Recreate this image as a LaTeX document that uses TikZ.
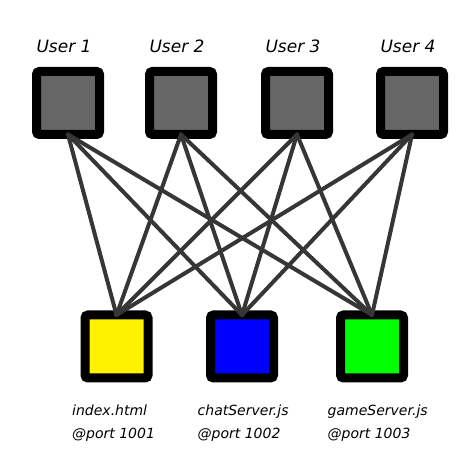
\documentclass[tikz,border=0pt]{standalone}
\usepackage{fontspec}
\setmainfont{DejaVu Sans}
\usetikzlibrary{positioning}

\definecolor{boxGray}{HTML}{666666}
\definecolor{wireGray}{HTML}{363636}

\begin{document}
\begin{tikzpicture}[x=1pt, y=1pt, node distance=20pt]
      \tikzstyle{userNode} = [rectangle, draw=black, fill=boxGray, line width=9pt, rounded corners=3pt, minimum size=63pt, outer sep=0pt]
      \tikzstyle{serverNode} = [rectangle, draw=black, line width=9pt, rounded corners=3pt, minimum size=63pt, outer sep=0pt]
      \tikzstyle{userLabel} = [font=\fontsize{17}{20}\selectfont\itshape, inner sep=0pt]
      \tikzstyle{serverLabel} = [font=\fontsize{14}{23}\selectfont\itshape, inner sep=0pt, align=left]
      \tikzstyle{wire} = [draw=wireGray, line width=4pt, line cap=round]

      \useasboundingbox (0,0) rectangle (474,474);

      % Usuarios
      \node at (68,371) [userNode] (user1) {};
      \node at (181,371) [userNode] (user2) {};
      \node at (297,371) [userNode] (user3) {};
      \node at (412,371) [userNode] (user4) {};
      \foreach \i in {1,...,4}
        \node [userLabel, above=19pt of user\i, xshift=-4pt] (label\i) {User \i};

      % Servidores
      \node at (116.5,127.5) [serverNode, fill=yellow] (index) {};
      \node at (242,127.5) [serverNode, fill=blue] (chat) {};
      \node at (372,127.5) [serverNode, fill=green] (game) {};
      \node [serverLabel, below=27pt of index.south west, anchor=north west, xshift=-13pt] (indexLabel) {index.html\\@port 1001};
      \node [serverLabel, below=27pt of chat.south west, anchor=north west, xshift=-13pt] (chatLabel) {chatServer.js\\@port 1002};
      \node [serverLabel, below=27pt of game.south west, anchor=north west, xshift=-13pt] (gameLabel) {gameServer.js\\@port 1003};

      % Conexiones
      \foreach \u in {1,...,4}
        \foreach \s in {index, chat, game}
          \draw [wire] (user\u.south) -- (\s.north);

    \end{tikzpicture}
\end{document}
